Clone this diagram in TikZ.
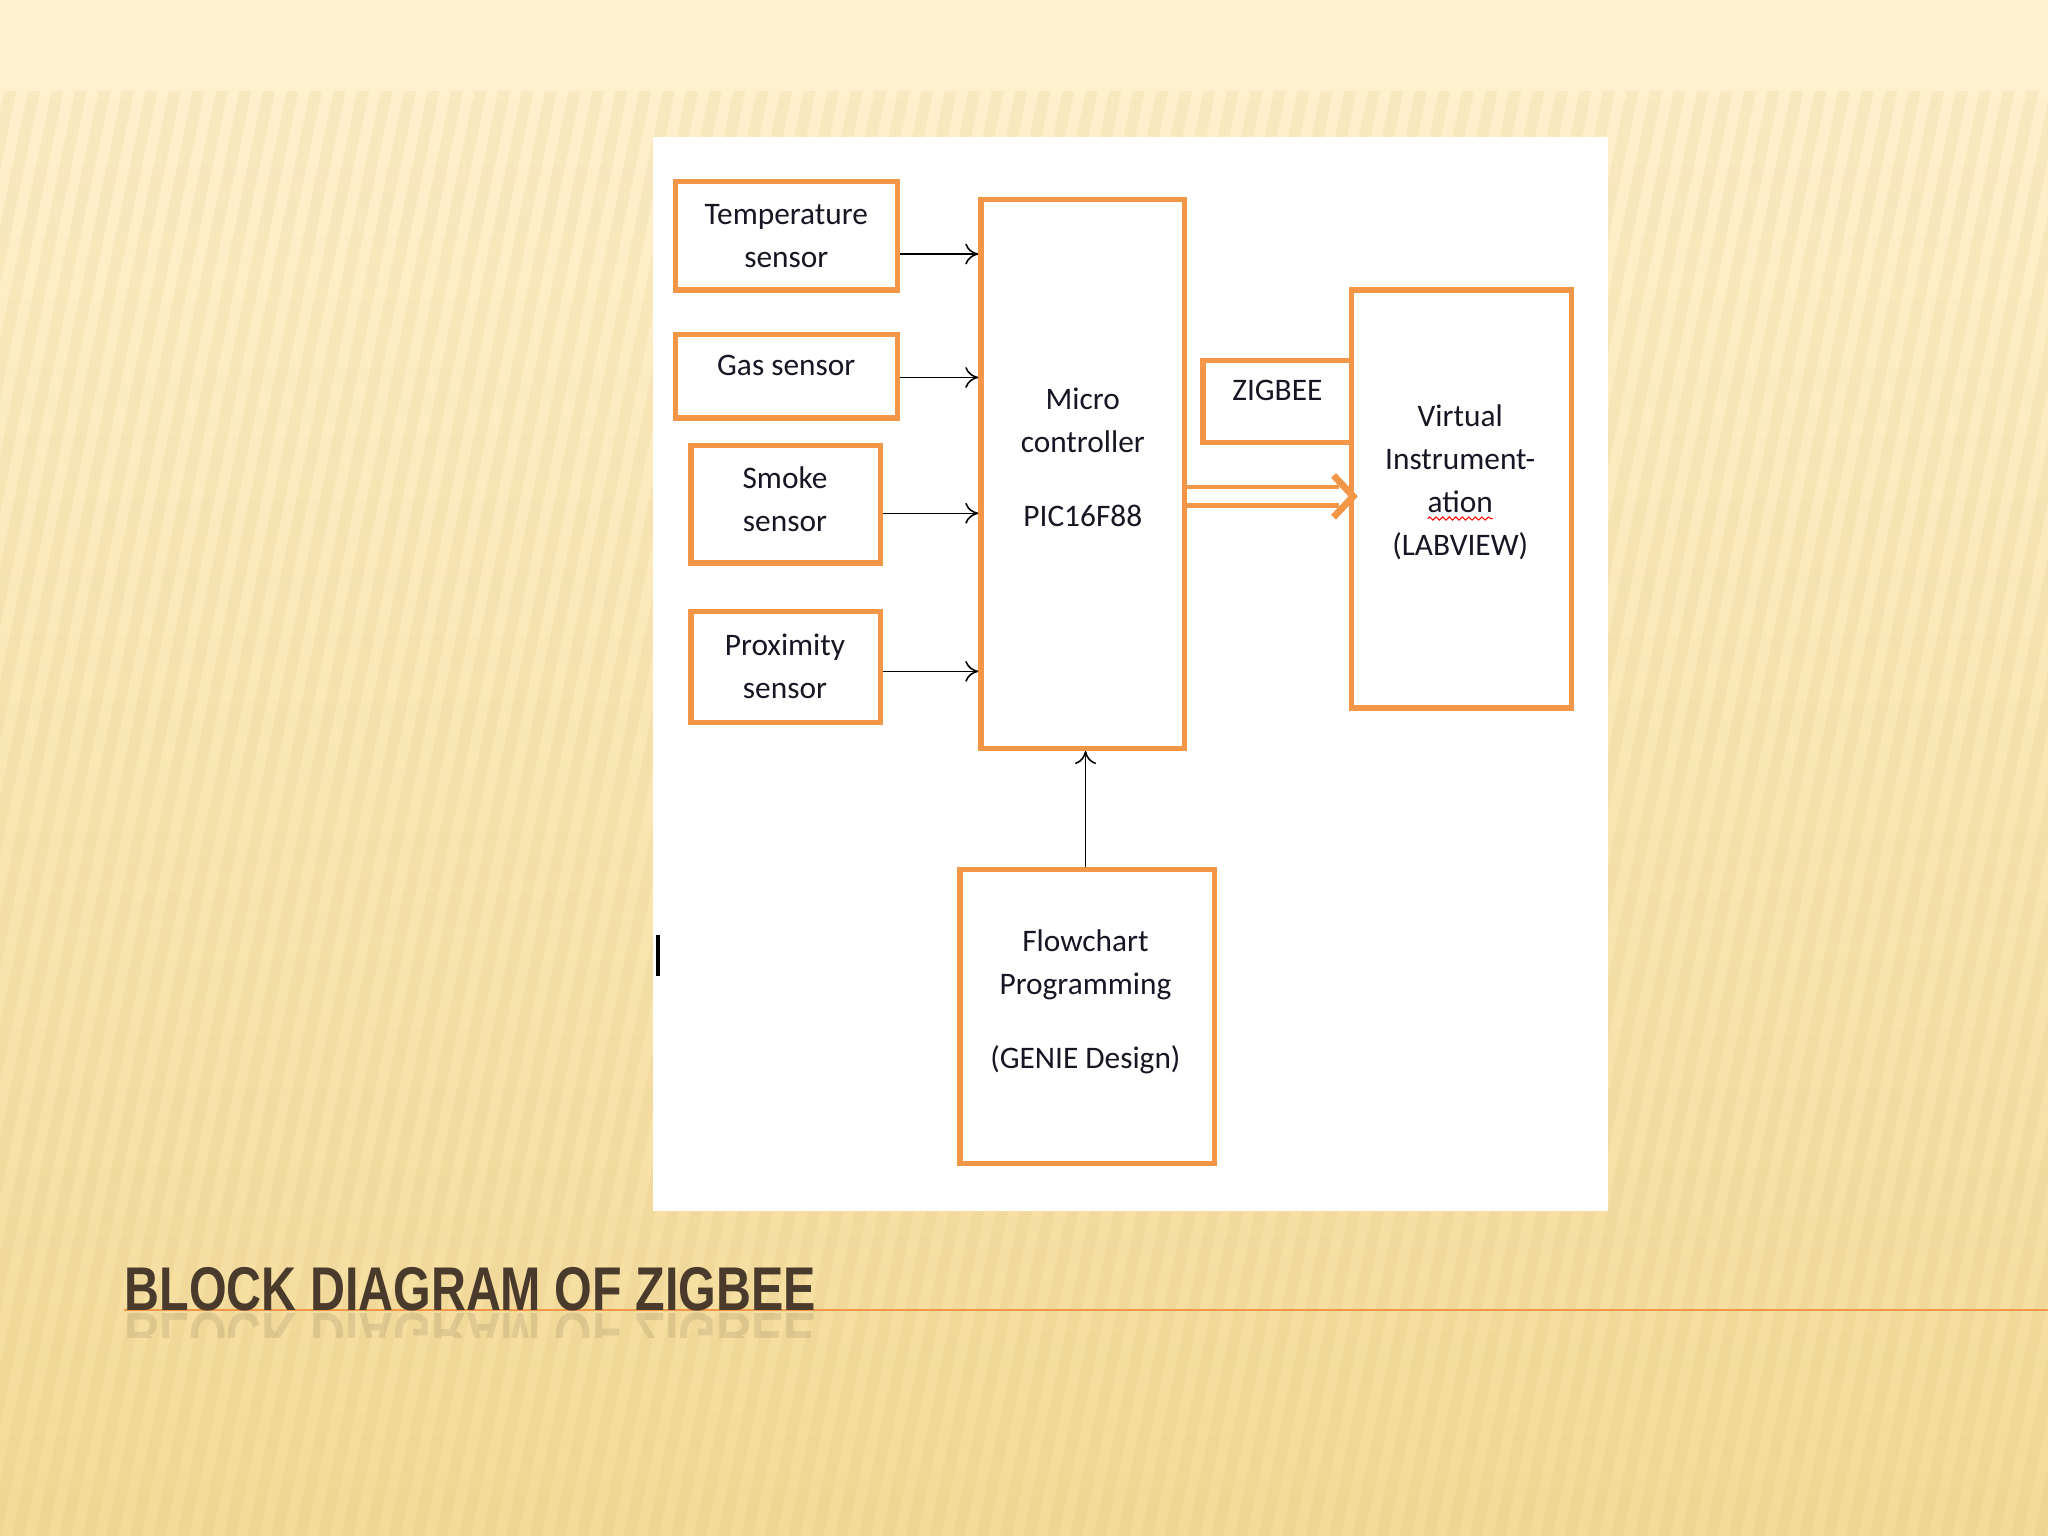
\documentclass[tikz,border=0pt]{standalone}
\usepackage{fontspec}
\setmainfont{Carlito}
\newfontfamily\titlefont{Liberation Sans}
\usetikzlibrary{calc,fit,arrows.meta,decorations.pathmorphing}
\definecolor{boxorange}{RGB}{244,150,72}
\definecolor{bgtop}{RGB}{255,242,208}
\definecolor{bgbot}{RGB}{243,219,152}
\definecolor{stripe}{RGB}{214,184,110}
\definecolor{titlebrown}{RGB}{74,58,44}
\definecolor{txt}{RGB}{22,22,36}
\tikzset{
  box/.style={draw=boxorange, line width=2pt, inner sep=0pt, fill=white},
  lbl/.style={align=center, text=txt, font=\fontsize{12}{16.5}\selectfont, inner sep=0pt},
  arr/.style={draw=black, line width=0.6pt, -{To[length=5pt,width=8pt]}},
  dbl/.style={draw=boxorange, line width=1.6pt}
}
\begin{document}
\begin{tikzpicture}[x=0.5pt,y=-0.5pt]
\useasboundingbox (0,0) rectangle (1568,1176);
% background
\shade[top color=bgtop, bottom color=bgbot] (0,0) rectangle (1568,1176);
\fill[bgtop] (0,0) rectangle (1568,60);
\begin{scope}
\clip (0,70) rectangle (1568,1176);
\foreach \x in {-400,-382,...,1800} {
  \draw[stripe, opacity=0.13, line width=4.5pt] (\x,1176) -- (\x+230,60);
}
\end{scope}
% white panel
\fill[white] (500,105) rectangle (1231,927);
% cursor mark
\draw[black, line width=1.5pt] (504,716) -- (504,747);
% boxes
\node[box, fit={(517,139)(687,222)}] (temp) {};
\node[box, fit={(517,256)(687,320)}] (gas) {};
\node[box, fit={(529,341)(674,431)}] (smoke) {};
\node[box, fit={(529,468)(674,553)}] (prox) {};
\node[box, fit={(751,153)(907,573)}] (mc) {};
\node[box, fit={(921,276)(1035,339)}] (zig) {};
\node[box, fit={(1035,222)(1203,542)}] (virt) {};
\node[box, fit={(735,666)(930,891)}] (flow) {};
% texts
\node[lbl] (tTemp) at (602,181) {Temperature\\sensor};
\node[lbl] (tGas) at (602,280) {Gas sensor};
\node[lbl] (tSmoke) at (601,382) {Smoke\\sensor};
\node[lbl] (tProx) at (601,510) {Proximity\\sensor};
\node[lbl] (tMc1) at (829,322) {Micro\\controller};
\node[lbl] (tMc2) at (829,395) {PIC16F88};
\node[lbl] (tZig) at (978,299) {ZIGBEE};
\node[lbl] (tVirt) at (1118,369) {Virtual\\Instrument-\\ation\\(LABVIEW)};
\node[lbl] (tFlow1) at (831,739) {Flowchart\\Programming};
\node[lbl] (tFlow2) at (831,811) {(GENIE Design)};
% spelling squiggle
\coordinate (sqA) at (1093,397);
\coordinate (sqB) at (1143,397);
\draw[red, line width=0.4pt, decorate, decoration={snake, amplitude=0.6pt, segment length=2.5pt}] (sqA) -- (sqB);
% sensor arrows
\draw[arr] ([yshift=-7pt]temp.east) -- ([yshift=-7pt]temp.east -| mc.west);
\draw[arr] ([yshift=-0.5pt]gas.east) -- ([yshift=-0.5pt]gas.east -| mc.west);
\draw[arr] ([yshift=-3.5pt]smoke.east) -- ([yshift=-3.5pt]smoke.east -| mc.west);
\draw[arr] ([yshift=-1.75pt]prox.east) -- ([yshift=-1.75pt]prox.east -| mc.west);
\draw[arr] ([xshift=-0.7pt]flow.north) -- ([xshift=-0.7pt]flow.north |- mc.south);
% double arrow to virtual instrumentation
\draw[dbl] ([yshift=-5pt]mc.east) -- ([yshift=-5pt,xshift=-4pt]mc.east -| virt.west);
\draw[dbl] ([yshift=-12pt]mc.east) -- ([yshift=-12pt,xshift=-4pt]mc.east -| virt.west);
\coordinate (tip) at (1036,380);
\draw[boxorange, line width=2.6pt, line join=miter] ($(tip)+(-15,-16)$) -- (tip) -- ($(tip)+(-15,16)$);
% title
\draw[boxorange, line width=0.6pt] (95,1003) -- (1568,1003);
\begin{scope}
\clip (80,1005) rectangle (700,1024);
\node[anchor=base west, inner sep=0pt, text=titlebrown, opacity=0.12, yscale=-1] (titleRefl) at (95,1006) {\titlefont\bfseries\resizebox{264.5pt}{16.5pt}{BLOCK DIAGRAM OF ZIGBEE}};
\end{scope}
\node[anchor=base west, inner sep=0pt, text=titlebrown] (title) at (95,1003) {\titlefont\bfseries\resizebox{264.5pt}{16.5pt}{BLOCK DIAGRAM OF ZIGBEE}};
\end{tikzpicture}
\end{document}
